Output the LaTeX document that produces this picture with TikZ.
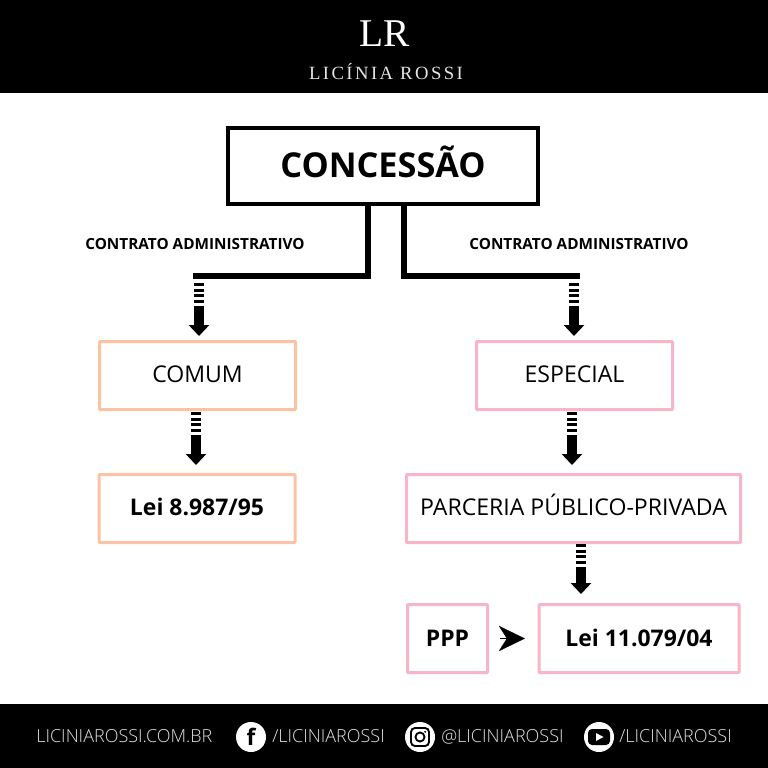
\documentclass[tikz,border=0pt]{standalone}
\usepackage{fontspec}
\setmainfont{Open Sans}
\newfontfamily\lightfont{Open Sans Light}
\newfontfamily\logofont[LetterSpace=13]{Liberation Serif}
\newfontfamily\monofont{Liberation Serif}
\usetikzlibrary{arrows.meta,calc}
\definecolor{peach}{HTML}{FBC3A4}
\definecolor{rosa}{HTML}{F7B5C7}
\definecolor{foot}{HTML}{E0E0E0}
\newcommand{\up}[2]{\raisebox{#1}{#2}}
\tikzset{
 x=0.75pt,y=-0.75pt,
 box/.style={draw,line width=2.25pt,rounded corners=0.5pt,inner sep=0pt,align=center,text=black,text height=12.3pt,text depth=0pt,font=\fontsize{17.3}{20}\selectfont},
 peachbox/.style={box,draw=peach},
 rosabox/.style={box,draw=rosa},
 boldtext/.style={font=\bfseries\fontsize{17.2}{20}\selectfont},
 titlebox/.style={draw=black,line width=3pt,inner sep=0pt,text height=18.35pt,text depth=0pt,font=\bfseries\fontsize{25.7}{30}\selectfont},
 stem/.style={draw=black,line width=5pt,line cap=butt,line join=miter},
 stripes/.style={draw=black,line width=7.5pt,dash pattern=on 2.3pt off 1.9pt},
 shaft/.style={draw=black,line width=7.5pt,-{Triangle[width=15pt,length=8.25pt]}},
 caption/.style={font=\bfseries\fontsize{11.5}{13}\selectfont,inner sep=0pt},
 foottext/.style={text=foot,font=\lightfont\fontsize{13.5}{15}\selectfont,inner sep=0pt},
 social/.style={circle,fill=white,minimum size=22.5pt,inner sep=0pt},
}
\newcommand{\stripedarrow}[3]{%
 \draw[stripes] (#1) -- ($(#1)+(0,20)$);
 \draw[shaft,shorten >=#3*0.75pt] ($(#1)+(0,23)$) -- (#1 |- #2.north);
}
\begin{document}
\begin{tikzpicture}
\useasboundingbox (0,0) rectangle (768,768);
\fill[white] (0,0) rectangle (768,768);
\fill[black] (0,0) rectangle (768,93);
\fill[black] (0,704) rectangle (768,768);

% header
\node[text=white,inner sep=0pt,font=\monofont\fontsize{29.5}{32}\selectfont] (logo) at (385,34) {LR};
\node[text=white!90!black,inner sep=0pt,font=\logofont\fontsize{14}{16}\selectfont] (brand) at (386,72) {LICÍNIA ROSSI};

% boxes
\node[titlebox,minimum width=232.5pt,minimum height=57pt] (title) at (383,165.5) {CONCESSÃO};
\node[peachbox,minimum width=147pt,minimum height=51pt] (comum) at (197.5,375.5) {\up{1.1pt}{COMUM}};
\node[rosabox,minimum width=147pt,minimum height=51pt] (especial) at (574.5,375.5) {\up{1.1pt}{ESPECIAL}};
\node[peachbox,minimum width=147pt,minimum height=51pt,boldtext] (lei) at (197,508.5) {\up{1.1pt}{Lei 8.987/95}};
\node[rosabox,minimum width=250.5pt,minimum height=51pt] (parceria) at (573.5,508.5) {\up{1.1pt}{PARCERIA PÚBLICO-PRIVADA}};
\node[rosabox,minimum width=60pt,minimum height=51pt,boldtext] (ppp) at (447.5,638.5) {PPP};
\node[rosabox,minimum width=150pt,minimum height=51pt,boldtext] (lei2) at (639,638.5) {Lei 11.079/04};

% captions
\node[caption] (capL) at (195,244.5) {CONTRATO ADMINISTRATIVO};
\node[caption] (capR) at (579,244.5) {CONTRATO ADMINISTRATIVO};

% stems
\coordinate (leftEnd) at (193,276);
\coordinate (rightEnd) at (580,276);
\coordinate (stemL) at (368,204);
\coordinate (stemR) at (404,204);
\draw[stem] (stemL |- title.south) -- (stemL |- leftEnd) -- (leftEnd);
\draw[stem] (stemR |- title.south) -- (stemR |- rightEnd) -- (rightEnd);

% striped arrows
\coordinate (a1) at (199,283);
\coordinate (a2) at (574,283);
\coordinate (a3) at (196,412);
\coordinate (a4) at (572,412);
\coordinate (a5) at (581,544);
\stripedarrow{a1}{comum}{4}
\stripedarrow{a2}{especial}{4}
\stripedarrow{a3}{lei}{8}
\stripedarrow{a4}{parceria}{8}
\stripedarrow{a5}{lei2}{9}

% PPP arrow
\draw[line width=0.1pt,-{Stealth[length=19.5pt,width=19pt,inset=6pt]},shorten <=8.5pt,shorten >=9.5pt] (ppp.east) -- (lei2.west);

% footer
\node[foottext,anchor=base west] (site) at (36,742) {LICINIAROSSI.COM.BR};
\node[social] (fb) at (251,737) {};
\node[font=\bfseries\fontsize{17}{20}\selectfont,text=black,inner sep=0pt] at (fb) {f};
\node[foottext,anchor=base west] (fbt) at (272,742) {/LICINIAROSSI};
\node[social] (ig) at (420,737) {};
\draw[black,line width=1.4pt,rounded corners=3pt] ($(ig)+(-9,-9)$) rectangle ($(ig)+(9,9)$);
\draw[black,line width=1.4pt] (ig) circle (3.4pt);
\fill[black] ($(ig)+(5.2,-5.2)$) circle (0.8pt);
\node[foottext,anchor=base west] (igt) at (441,742) {@LICINIAROSSI};
\node[social] (yt) at (599,737) {};
\fill[black,rounded corners=3pt] ($(yt)+(-11,-8)$) rectangle ($(yt)+(11,8)$);
\fill[white] ($(yt)+(-3,-4)$) -- ($(yt)+(4.5,0)$) -- ($(yt)+(-3,4)$) -- cycle;
\node[foottext,anchor=base west] (ytt) at (619,742) {/LICINIAROSSI};
\end{tikzpicture}
\end{document}
